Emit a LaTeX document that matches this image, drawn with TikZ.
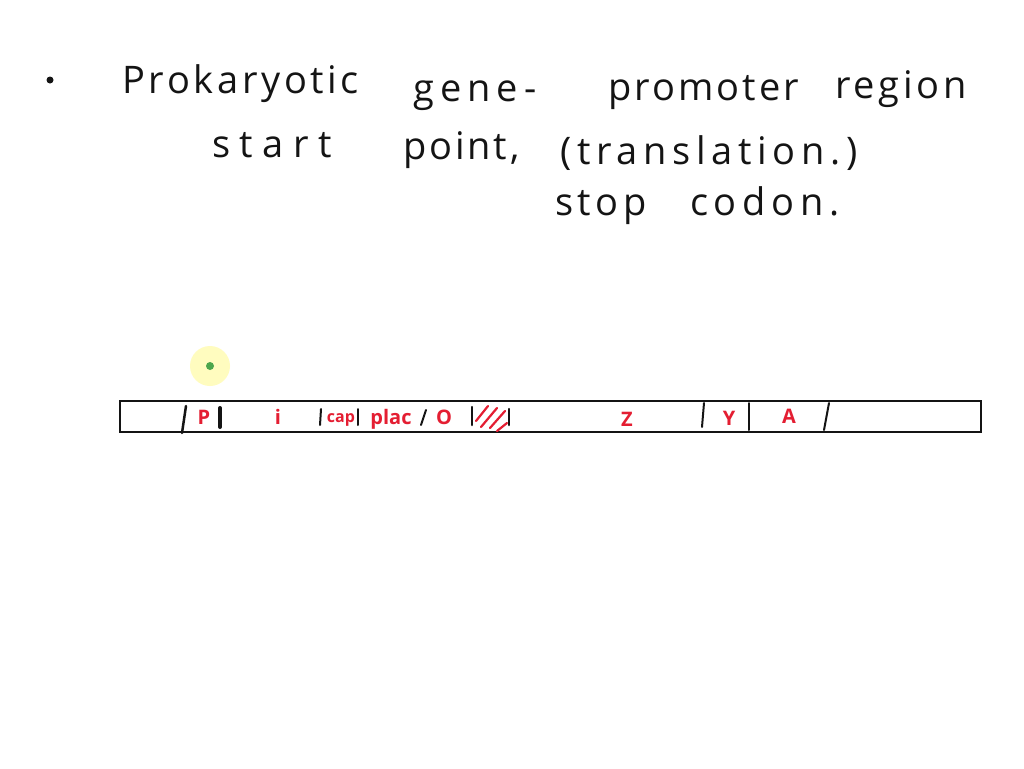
\documentclass[tikz,border=0pt]{standalone}
\usepackage{fontspec}
\setmainfont{Open Sans}
\definecolor{ink}{RGB}{20,20,20}
\definecolor{redink}{RGB}{228,30,50}
\begin{document}
\begin{tikzpicture}[x=1pt,y=-1pt,
  hand/.style={anchor=base west,inner sep=0pt,text=ink,font=\fontsize{38}{40}\selectfont},
  lab/.style={anchor=base,inner sep=0pt,text=redink,font=\fontsize{20}{22}\selectfont\bfseries},
  smalllab/.style={anchor=base,inner sep=0pt,text=redink,font=\fontsize{16}{18}\selectfont\bfseries},
  divider/.style={draw=ink,line width=2pt,line cap=round},
  hatch/.style={draw=redink,line width=2.2pt,line cap=round}]
\useasboundingbox (0,0) rectangle (1024,768);
\fill[white] (0,0) rectangle (1024,768);
% bullet
\fill[ink] (50,80) circle (3.5);
% heading text
\node[hand] (w1) at (122,93) {\addfontfeature{LetterSpace=9.6}Prokaryotic};
\node[hand] (w2) at (413,101) {\addfontfeature{LetterSpace=16}gene-};
\node[hand] (w3) at (608,100) {\addfontfeature{LetterSpace=8}promoter};
\node[hand] (w4) at (835,98) {\addfontfeature{LetterSpace=10}region};
\node[hand] (w5) at (212,157) {\addfontfeature{LetterSpace=25}start};
\node[hand] (w6) at (403,159) {\addfontfeature{LetterSpace=7.5}point,};
\node[hand] (w7) at (560,164) {\addfontfeature{LetterSpace=15}(translation.)};
\node[hand] (w8) at (555,215) {\addfontfeature{LetterSpace=12}stop};
\node[hand] (w9) at (690,215) {\addfontfeature{LetterSpace=15}codon.};
% cursor highlight
\fill[yellow!25] (210,366) circle (20);
\fill[green!50!black!70] (210,366) circle (4);
% gene bar
\draw[ink,line width=1.5pt] (120,401) rectangle (981,432);
\coordinate (d1a) at (186,406); \coordinate (d1b) at (182,433);
\draw[divider,line width=2.5pt] (d1a) -- (d1b);
\coordinate (d2a) at (220,408); \coordinate (d2b) at (220,427);
\draw[divider,line width=4pt] (d2a) -- (d2b);
\coordinate (d3a) at (321,409); \coordinate (d3b) at (320,425);
\draw[divider] (d3a) -- (d3b);
\coordinate (d4a) at (358,409); \coordinate (d4b) at (358,425);
\draw[divider] (d4a) -- (d4b);
\coordinate (d5a) at (426,410); \coordinate (d5b) at (421,425);
\draw[divider] (d5a) -- (d5b);
\coordinate (d6a) at (472,407); \coordinate (d6b) at (472,425);
\draw[divider,line width=2.5pt] (d6a) -- (d6b);
\coordinate (d7a) at (509,409); \coordinate (d7b) at (509,425);
\draw[divider,line width=2.5pt] (d7a) -- (d7b);
\coordinate (d8a) at (704,403); \coordinate (d8b) at (702,427);
\draw[divider] (d8a) -- (d8b);
\coordinate (d9a) at (749,403); \coordinate (d9b) at (749,430);
\draw[divider] (d9a) -- (d9b);
\coordinate (d10a) at (829,403); \coordinate (d10b) at (824,430);
\draw[divider] (d10a) -- (d10b);
% hatching
\coordinate (h1a) at (476,421); \coordinate (h1b) at (488,406);
\coordinate (h2a) at (481,427); \coordinate (h2b) at (497,408);
\coordinate (h3a) at (490,428); \coordinate (h3b) at (505,411);
\coordinate (h4a) at (497,431); \coordinate (h4b) at (507,423);
\draw[hatch] (h1a) -- (h1b);
\draw[hatch] (h2a) -- (h2b);
\draw[hatch] (h3a) -- (h3b);
\draw[hatch] (h4a) -- (h4b);
% red labels
\node[lab] (lP) at (204,424) {P};
\node[lab] (li) at (278,424) {i};
\node[smalllab] (lcap) at (341,422) {cap};
\node[lab] (lplac) at (391,424) {plac};
\node[lab] (lO) at (444,424) {O};
\node[lab] (lZ) at (627,426) {Z};
\node[lab] (lY) at (729,425) {Y};
\node[lab] (lA) at (789,423) {A};
\end{tikzpicture}
\end{document}
